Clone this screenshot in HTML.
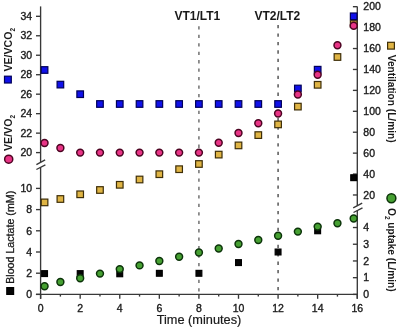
<!DOCTYPE html>
<html><head><meta charset="utf-8"><style>
html,body{margin:0;padding:0;background:#fff;}
body{width:400px;height:329px;overflow:hidden;}
svg{display:block;font-family:"Liberation Sans", sans-serif;will-change:transform;}
text{fill:#1a1a1a;}
</style></head><body>
<svg width="400" height="329" viewBox="0 0 400 329">
<rect width="400" height="329" fill="#fff"/>
<line x1="198.92" y1="26.30" x2="198.92" y2="294.40" stroke="#666" stroke-width="1.4" stroke-dasharray="3.3 5.15"/>
<line x1="278.08" y1="25.00" x2="278.08" y2="294.40" stroke="#4a4a4a" stroke-width="1.4" stroke-dasharray="3.3 5.15"/>
<line x1="40.60" y1="6.40" x2="40.60" y2="162.40" stroke="#383838" stroke-width="1.35" />
<line x1="40.60" y1="167.30" x2="40.60" y2="298.80" stroke="#383838" stroke-width="1.35" />
<line x1="357.30" y1="6.40" x2="357.30" y2="205.80" stroke="#383838" stroke-width="1.35" />
<line x1="357.30" y1="210.40" x2="357.30" y2="298.80" stroke="#383838" stroke-width="1.35" />
<line x1="35.90" y1="294.40" x2="357.30" y2="294.40" stroke="#383838" stroke-width="1.35" />
<line x1="36.40" y1="164.60" x2="45.10" y2="159.90" stroke="#383838" stroke-width="1.35" />
<line x1="36.40" y1="169.50" x2="45.40" y2="164.80" stroke="#383838" stroke-width="1.35" />
<line x1="353.20" y1="207.80" x2="362.20" y2="203.20" stroke="#383838" stroke-width="1.35" />
<line x1="353.50" y1="212.50" x2="362.50" y2="207.80" stroke="#383838" stroke-width="1.35" />
<line x1="36.00" y1="152.60" x2="40.60" y2="152.60" stroke="#383838" stroke-width="1.35" />
<text x="32.20" y="156.30" text-anchor="end" font-size="10.5" font-weight="normal" stroke="#1a1a1a" stroke-width="0.35">20</text>
<line x1="36.00" y1="133.13" x2="40.60" y2="133.13" stroke="#383838" stroke-width="1.35" />
<text x="32.20" y="136.83" text-anchor="end" font-size="10.5" font-weight="normal" stroke="#1a1a1a" stroke-width="0.35">22</text>
<line x1="36.00" y1="113.66" x2="40.60" y2="113.66" stroke="#383838" stroke-width="1.35" />
<text x="32.20" y="117.36" text-anchor="end" font-size="10.5" font-weight="normal" stroke="#1a1a1a" stroke-width="0.35">24</text>
<line x1="36.00" y1="94.18" x2="40.60" y2="94.18" stroke="#383838" stroke-width="1.35" />
<text x="32.20" y="97.88" text-anchor="end" font-size="10.5" font-weight="normal" stroke="#1a1a1a" stroke-width="0.35">26</text>
<line x1="36.00" y1="74.71" x2="40.60" y2="74.71" stroke="#383838" stroke-width="1.35" />
<text x="32.20" y="78.41" text-anchor="end" font-size="10.5" font-weight="normal" stroke="#1a1a1a" stroke-width="0.35">28</text>
<line x1="36.00" y1="55.24" x2="40.60" y2="55.24" stroke="#383838" stroke-width="1.35" />
<text x="32.20" y="58.94" text-anchor="end" font-size="10.5" font-weight="normal" stroke="#1a1a1a" stroke-width="0.35">30</text>
<line x1="36.00" y1="35.77" x2="40.60" y2="35.77" stroke="#383838" stroke-width="1.35" />
<text x="32.20" y="39.47" text-anchor="end" font-size="10.5" font-weight="normal" stroke="#1a1a1a" stroke-width="0.35">32</text>
<line x1="36.00" y1="16.30" x2="40.60" y2="16.30" stroke="#383838" stroke-width="1.35" />
<text x="32.20" y="20.00" text-anchor="end" font-size="10.5" font-weight="normal" stroke="#1a1a1a" stroke-width="0.35">34</text>
<line x1="36.00" y1="294.40" x2="40.60" y2="294.40" stroke="#383838" stroke-width="1.35" />
<text x="32.20" y="298.10" text-anchor="end" font-size="10.5" font-weight="normal" stroke="#1a1a1a" stroke-width="0.35">0</text>
<line x1="36.00" y1="273.20" x2="40.60" y2="273.20" stroke="#383838" stroke-width="1.35" />
<text x="32.20" y="276.90" text-anchor="end" font-size="10.5" font-weight="normal" stroke="#1a1a1a" stroke-width="0.35">2</text>
<line x1="36.00" y1="252.00" x2="40.60" y2="252.00" stroke="#383838" stroke-width="1.35" />
<text x="32.20" y="255.70" text-anchor="end" font-size="10.5" font-weight="normal" stroke="#1a1a1a" stroke-width="0.35">4</text>
<line x1="36.00" y1="230.80" x2="40.60" y2="230.80" stroke="#383838" stroke-width="1.35" />
<text x="32.20" y="234.50" text-anchor="end" font-size="10.5" font-weight="normal" stroke="#1a1a1a" stroke-width="0.35">6</text>
<line x1="36.00" y1="209.60" x2="40.60" y2="209.60" stroke="#383838" stroke-width="1.35" />
<text x="32.20" y="213.30" text-anchor="end" font-size="10.5" font-weight="normal" stroke="#1a1a1a" stroke-width="0.35">8</text>
<line x1="36.00" y1="188.40" x2="40.60" y2="188.40" stroke="#383838" stroke-width="1.35" />
<text x="32.20" y="192.10" text-anchor="end" font-size="10.5" font-weight="normal" stroke="#1a1a1a" stroke-width="0.35">10</text>
<line x1="352.90" y1="194.98" x2="357.30" y2="194.98" stroke="#383838" stroke-width="1.35" />
<text x="363.30" y="198.68" text-anchor="start" font-size="10.5" font-weight="normal" stroke="#1a1a1a" stroke-width="0.35">20</text>
<line x1="352.90" y1="174.06" x2="357.30" y2="174.06" stroke="#383838" stroke-width="1.35" />
<text x="363.30" y="177.76" text-anchor="start" font-size="10.5" font-weight="normal" stroke="#1a1a1a" stroke-width="0.35">40</text>
<line x1="352.90" y1="153.14" x2="357.30" y2="153.14" stroke="#383838" stroke-width="1.35" />
<text x="363.30" y="156.84" text-anchor="start" font-size="10.5" font-weight="normal" stroke="#1a1a1a" stroke-width="0.35">60</text>
<line x1="352.90" y1="132.22" x2="357.30" y2="132.22" stroke="#383838" stroke-width="1.35" />
<text x="363.30" y="135.92" text-anchor="start" font-size="10.5" font-weight="normal" stroke="#1a1a1a" stroke-width="0.35">80</text>
<line x1="352.90" y1="111.30" x2="357.30" y2="111.30" stroke="#383838" stroke-width="1.35" />
<text x="363.30" y="115.00" text-anchor="start" font-size="10.5" font-weight="normal" stroke="#1a1a1a" stroke-width="0.35">100</text>
<line x1="352.90" y1="90.38" x2="357.30" y2="90.38" stroke="#383838" stroke-width="1.35" />
<text x="363.30" y="94.08" text-anchor="start" font-size="10.5" font-weight="normal" stroke="#1a1a1a" stroke-width="0.35">120</text>
<line x1="352.90" y1="69.46" x2="357.30" y2="69.46" stroke="#383838" stroke-width="1.35" />
<text x="363.30" y="73.16" text-anchor="start" font-size="10.5" font-weight="normal" stroke="#1a1a1a" stroke-width="0.35">140</text>
<line x1="352.90" y1="48.54" x2="357.30" y2="48.54" stroke="#383838" stroke-width="1.35" />
<text x="363.30" y="52.24" text-anchor="start" font-size="10.5" font-weight="normal" stroke="#1a1a1a" stroke-width="0.35">160</text>
<line x1="352.90" y1="27.62" x2="357.30" y2="27.62" stroke="#383838" stroke-width="1.35" />
<text x="363.30" y="31.32" text-anchor="start" font-size="10.5" font-weight="normal" stroke="#1a1a1a" stroke-width="0.35">180</text>
<line x1="352.90" y1="6.70" x2="357.30" y2="6.70" stroke="#383838" stroke-width="1.35" />
<text x="363.30" y="10.40" text-anchor="start" font-size="10.5" font-weight="normal" stroke="#1a1a1a" stroke-width="0.35">200</text>
<line x1="352.90" y1="294.40" x2="357.30" y2="294.40" stroke="#383838" stroke-width="1.35" />
<text x="363.30" y="298.10" text-anchor="start" font-size="10.5" font-weight="normal" stroke="#1a1a1a" stroke-width="0.35">0</text>
<line x1="352.90" y1="277.68" x2="357.30" y2="277.68" stroke="#383838" stroke-width="1.35" />
<text x="363.30" y="281.38" text-anchor="start" font-size="10.5" font-weight="normal" stroke="#1a1a1a" stroke-width="0.35">1</text>
<line x1="352.90" y1="260.96" x2="357.30" y2="260.96" stroke="#383838" stroke-width="1.35" />
<text x="363.30" y="264.66" text-anchor="start" font-size="10.5" font-weight="normal" stroke="#1a1a1a" stroke-width="0.35">2</text>
<line x1="352.90" y1="244.24" x2="357.30" y2="244.24" stroke="#383838" stroke-width="1.35" />
<text x="363.30" y="247.94" text-anchor="start" font-size="10.5" font-weight="normal" stroke="#1a1a1a" stroke-width="0.35">3</text>
<line x1="352.90" y1="227.52" x2="357.30" y2="227.52" stroke="#383838" stroke-width="1.35" />
<text x="363.30" y="231.22" text-anchor="start" font-size="10.5" font-weight="normal" stroke="#1a1a1a" stroke-width="0.35">4</text>
<line x1="40.60" y1="294.40" x2="40.60" y2="298.80" stroke="#383838" stroke-width="1.35" />
<text x="40.60" y="311.80" text-anchor="middle" font-size="10.5" font-weight="normal" stroke="#1a1a1a" stroke-width="0.35">0</text>
<line x1="60.39" y1="294.40" x2="60.39" y2="296.60" stroke="#383838" stroke-width="1.35" />
<line x1="80.18" y1="294.40" x2="80.18" y2="298.80" stroke="#383838" stroke-width="1.35" />
<text x="80.18" y="311.80" text-anchor="middle" font-size="10.5" font-weight="normal" stroke="#1a1a1a" stroke-width="0.35">2</text>
<line x1="99.97" y1="294.40" x2="99.97" y2="296.60" stroke="#383838" stroke-width="1.35" />
<line x1="119.76" y1="294.40" x2="119.76" y2="298.80" stroke="#383838" stroke-width="1.35" />
<text x="119.76" y="311.80" text-anchor="middle" font-size="10.5" font-weight="normal" stroke="#1a1a1a" stroke-width="0.35">4</text>
<line x1="139.55" y1="294.40" x2="139.55" y2="296.60" stroke="#383838" stroke-width="1.35" />
<line x1="159.34" y1="294.40" x2="159.34" y2="298.80" stroke="#383838" stroke-width="1.35" />
<text x="159.34" y="311.80" text-anchor="middle" font-size="10.5" font-weight="normal" stroke="#1a1a1a" stroke-width="0.35">6</text>
<line x1="179.13" y1="294.40" x2="179.13" y2="296.60" stroke="#383838" stroke-width="1.35" />
<line x1="198.92" y1="294.40" x2="198.92" y2="298.80" stroke="#383838" stroke-width="1.35" />
<text x="198.92" y="311.80" text-anchor="middle" font-size="10.5" font-weight="normal" stroke="#1a1a1a" stroke-width="0.35">8</text>
<line x1="218.71" y1="294.40" x2="218.71" y2="296.60" stroke="#383838" stroke-width="1.35" />
<line x1="238.50" y1="294.40" x2="238.50" y2="298.80" stroke="#383838" stroke-width="1.35" />
<text x="238.50" y="311.80" text-anchor="middle" font-size="10.5" font-weight="normal" stroke="#1a1a1a" stroke-width="0.35">10</text>
<line x1="258.29" y1="294.40" x2="258.29" y2="296.60" stroke="#383838" stroke-width="1.35" />
<line x1="278.08" y1="294.40" x2="278.08" y2="298.80" stroke="#383838" stroke-width="1.35" />
<text x="278.08" y="311.80" text-anchor="middle" font-size="10.5" font-weight="normal" stroke="#1a1a1a" stroke-width="0.35">12</text>
<line x1="297.87" y1="294.40" x2="297.87" y2="296.60" stroke="#383838" stroke-width="1.35" />
<line x1="317.66" y1="294.40" x2="317.66" y2="298.80" stroke="#383838" stroke-width="1.35" />
<text x="317.66" y="311.80" text-anchor="middle" font-size="10.5" font-weight="normal" stroke="#1a1a1a" stroke-width="0.35">14</text>
<line x1="337.45" y1="294.40" x2="337.45" y2="296.60" stroke="#383838" stroke-width="1.35" />
<line x1="357.24" y1="294.40" x2="357.24" y2="298.80" stroke="#383838" stroke-width="1.35" />
<text x="357.24" y="311.80" text-anchor="middle" font-size="10.5" font-weight="normal" stroke="#1a1a1a" stroke-width="0.35">16</text>
<rect x="41.66" y="270.70" width="5.80" height="5.80" fill="#050505" stroke="#000000" stroke-width="1.2"/>
<rect x="77.28" y="270.70" width="5.80" height="5.80" fill="#050505" stroke="#000000" stroke-width="1.2"/>
<rect x="116.86" y="270.90" width="5.80" height="5.80" fill="#050505" stroke="#000000" stroke-width="1.2"/>
<rect x="156.44" y="270.40" width="5.80" height="5.80" fill="#050505" stroke="#000000" stroke-width="1.2"/>
<rect x="196.02" y="270.40" width="5.80" height="5.80" fill="#050505" stroke="#000000" stroke-width="1.2"/>
<rect x="235.60" y="259.70" width="5.80" height="5.80" fill="#050505" stroke="#000000" stroke-width="1.2"/>
<rect x="275.18" y="249.10" width="5.80" height="5.80" fill="#050505" stroke="#000000" stroke-width="1.2"/>
<rect x="314.76" y="227.90" width="5.80" height="5.80" fill="#050505" stroke="#000000" stroke-width="1.2"/>
<rect x="350.78" y="174.80" width="5.80" height="5.80" fill="#050505" stroke="#000000" stroke-width="1.2"/>
<circle cx="44.56" cy="286.20" r="3.45" fill="#46a032" stroke="#0c340a" stroke-width="1.5"/>
<circle cx="60.39" cy="282.00" r="3.45" fill="#46a032" stroke="#0c340a" stroke-width="1.5"/>
<circle cx="80.18" cy="278.20" r="3.45" fill="#46a032" stroke="#0c340a" stroke-width="1.5"/>
<circle cx="99.97" cy="273.60" r="3.45" fill="#46a032" stroke="#0c340a" stroke-width="1.5"/>
<circle cx="119.76" cy="269.10" r="3.45" fill="#46a032" stroke="#0c340a" stroke-width="1.5"/>
<circle cx="139.55" cy="265.40" r="3.45" fill="#46a032" stroke="#0c340a" stroke-width="1.5"/>
<circle cx="159.34" cy="261.00" r="3.45" fill="#46a032" stroke="#0c340a" stroke-width="1.5"/>
<circle cx="179.13" cy="256.70" r="3.45" fill="#46a032" stroke="#0c340a" stroke-width="1.5"/>
<circle cx="198.92" cy="252.50" r="3.45" fill="#46a032" stroke="#0c340a" stroke-width="1.5"/>
<circle cx="218.71" cy="248.50" r="3.45" fill="#46a032" stroke="#0c340a" stroke-width="1.5"/>
<circle cx="238.50" cy="244.00" r="3.45" fill="#46a032" stroke="#0c340a" stroke-width="1.5"/>
<circle cx="258.29" cy="240.00" r="3.45" fill="#46a032" stroke="#0c340a" stroke-width="1.5"/>
<circle cx="278.08" cy="235.80" r="3.45" fill="#46a032" stroke="#0c340a" stroke-width="1.5"/>
<circle cx="297.87" cy="231.60" r="3.45" fill="#46a032" stroke="#0c340a" stroke-width="1.5"/>
<circle cx="317.66" cy="226.60" r="3.45" fill="#46a032" stroke="#0c340a" stroke-width="1.5"/>
<circle cx="337.45" cy="223.20" r="3.45" fill="#46a032" stroke="#0c340a" stroke-width="1.5"/>
<circle cx="353.68" cy="218.50" r="3.45" fill="#46a032" stroke="#0c340a" stroke-width="1.5"/>
<rect x="41.26" y="199.10" width="6.60" height="6.60" fill="#dfb444" stroke="#3e2e08" stroke-width="1.2"/>
<rect x="57.09" y="195.70" width="6.60" height="6.60" fill="#dfb444" stroke="#3e2e08" stroke-width="1.2"/>
<rect x="76.88" y="191.00" width="6.60" height="6.60" fill="#dfb444" stroke="#3e2e08" stroke-width="1.2"/>
<rect x="96.67" y="186.70" width="6.60" height="6.60" fill="#dfb444" stroke="#3e2e08" stroke-width="1.2"/>
<rect x="116.46" y="181.50" width="6.60" height="6.60" fill="#dfb444" stroke="#3e2e08" stroke-width="1.2"/>
<rect x="136.25" y="176.20" width="6.60" height="6.60" fill="#dfb444" stroke="#3e2e08" stroke-width="1.2"/>
<rect x="156.04" y="170.90" width="6.60" height="6.60" fill="#dfb444" stroke="#3e2e08" stroke-width="1.2"/>
<rect x="175.83" y="165.90" width="6.60" height="6.60" fill="#dfb444" stroke="#3e2e08" stroke-width="1.2"/>
<rect x="195.62" y="160.70" width="6.60" height="6.60" fill="#dfb444" stroke="#3e2e08" stroke-width="1.2"/>
<rect x="215.41" y="151.30" width="6.60" height="6.60" fill="#dfb444" stroke="#3e2e08" stroke-width="1.2"/>
<rect x="235.20" y="142.10" width="6.60" height="6.60" fill="#dfb444" stroke="#3e2e08" stroke-width="1.2"/>
<rect x="254.99" y="131.80" width="6.60" height="6.60" fill="#dfb444" stroke="#3e2e08" stroke-width="1.2"/>
<rect x="274.78" y="121.10" width="6.60" height="6.60" fill="#dfb444" stroke="#3e2e08" stroke-width="1.2"/>
<rect x="294.57" y="103.30" width="6.60" height="6.60" fill="#dfb444" stroke="#3e2e08" stroke-width="1.2"/>
<rect x="314.36" y="81.50" width="6.60" height="6.60" fill="#dfb444" stroke="#3e2e08" stroke-width="1.2"/>
<rect x="334.15" y="53.70" width="6.60" height="6.60" fill="#dfb444" stroke="#3e2e08" stroke-width="1.2"/>
<rect x="350.38" y="20.70" width="6.60" height="6.60" fill="#dfb444" stroke="#3e2e08" stroke-width="1.2"/>
<rect x="41.26" y="66.70" width="6.60" height="6.60" fill="#1010ea" stroke="#000058" stroke-width="1.2"/>
<rect x="57.09" y="81.30" width="6.60" height="6.60" fill="#1010ea" stroke="#000058" stroke-width="1.2"/>
<rect x="76.88" y="90.90" width="6.60" height="6.60" fill="#1010ea" stroke="#000058" stroke-width="1.2"/>
<rect x="96.67" y="100.70" width="6.60" height="6.60" fill="#1010ea" stroke="#000058" stroke-width="1.2"/>
<rect x="116.46" y="100.70" width="6.60" height="6.60" fill="#1010ea" stroke="#000058" stroke-width="1.2"/>
<rect x="136.25" y="100.70" width="6.60" height="6.60" fill="#1010ea" stroke="#000058" stroke-width="1.2"/>
<rect x="156.04" y="100.70" width="6.60" height="6.60" fill="#1010ea" stroke="#000058" stroke-width="1.2"/>
<rect x="175.83" y="100.70" width="6.60" height="6.60" fill="#1010ea" stroke="#000058" stroke-width="1.2"/>
<rect x="195.62" y="100.70" width="6.60" height="6.60" fill="#1010ea" stroke="#000058" stroke-width="1.2"/>
<rect x="215.41" y="100.70" width="6.60" height="6.60" fill="#1010ea" stroke="#000058" stroke-width="1.2"/>
<rect x="235.20" y="100.70" width="6.60" height="6.60" fill="#1010ea" stroke="#000058" stroke-width="1.2"/>
<rect x="254.99" y="100.70" width="6.60" height="6.60" fill="#1010ea" stroke="#000058" stroke-width="1.2"/>
<rect x="274.78" y="100.70" width="6.60" height="6.60" fill="#1010ea" stroke="#000058" stroke-width="1.2"/>
<rect x="294.57" y="85.20" width="6.60" height="6.60" fill="#1010ea" stroke="#000058" stroke-width="1.2"/>
<rect x="314.36" y="66.40" width="6.60" height="6.60" fill="#1010ea" stroke="#000058" stroke-width="1.2"/>
<rect x="350.38" y="13.00" width="6.60" height="6.60" fill="#1010ea" stroke="#000058" stroke-width="1.2"/>
<circle cx="44.56" cy="143.00" r="3.45" fill="#e83486" stroke="#4c0422" stroke-width="1.5"/>
<circle cx="60.39" cy="148.00" r="3.45" fill="#e83486" stroke="#4c0422" stroke-width="1.5"/>
<circle cx="80.18" cy="152.60" r="3.45" fill="#e83486" stroke="#4c0422" stroke-width="1.5"/>
<circle cx="99.97" cy="152.60" r="3.45" fill="#e83486" stroke="#4c0422" stroke-width="1.5"/>
<circle cx="119.76" cy="152.60" r="3.45" fill="#e83486" stroke="#4c0422" stroke-width="1.5"/>
<circle cx="139.55" cy="152.60" r="3.45" fill="#e83486" stroke="#4c0422" stroke-width="1.5"/>
<circle cx="159.34" cy="152.60" r="3.45" fill="#e83486" stroke="#4c0422" stroke-width="1.5"/>
<circle cx="179.13" cy="152.60" r="3.45" fill="#e83486" stroke="#4c0422" stroke-width="1.5"/>
<circle cx="198.92" cy="152.60" r="3.45" fill="#e83486" stroke="#4c0422" stroke-width="1.5"/>
<circle cx="218.71" cy="142.80" r="3.45" fill="#e83486" stroke="#4c0422" stroke-width="1.5"/>
<circle cx="238.50" cy="133.00" r="3.45" fill="#e83486" stroke="#4c0422" stroke-width="1.5"/>
<circle cx="258.29" cy="123.30" r="3.45" fill="#e83486" stroke="#4c0422" stroke-width="1.5"/>
<circle cx="278.08" cy="113.50" r="3.45" fill="#e83486" stroke="#4c0422" stroke-width="1.5"/>
<circle cx="297.87" cy="94.50" r="3.45" fill="#e83486" stroke="#4c0422" stroke-width="1.5"/>
<circle cx="317.66" cy="74.80" r="3.45" fill="#e83486" stroke="#4c0422" stroke-width="1.5"/>
<circle cx="337.45" cy="45.20" r="3.45" fill="#e83486" stroke="#4c0422" stroke-width="1.5"/>
<circle cx="353.68" cy="25.70" r="3.45" fill="#e83486" stroke="#4c0422" stroke-width="1.5"/>
<text x="199.00" y="324.40" text-anchor="middle" font-size="12.75" font-weight="normal" stroke="#1a1a1a" stroke-width="0.2">Time (minutes)</text>
<text x="197.30" y="19.60" text-anchor="middle" font-size="12" font-weight="bold" >VT1/LT1</text>
<text x="277.30" y="19.60" text-anchor="middle" font-size="12" font-weight="bold" >VT2/LT2</text>
<text transform="translate(11.80,71.60) rotate(-90)" font-size="10.6" font-weight="bold" >VE/VCO<tspan font-size="6.5" dy="3.0">2</tspan></text>
<text transform="translate(11.60,151.00) rotate(-90)" font-size="10.6" font-weight="bold" >VE/VO<tspan font-size="6.5" dy="3.0">2</tspan></text>
<text transform="translate(13.80,283.80) rotate(-90)" font-size="10.66" font-weight="normal" stroke="#1a1a1a" stroke-width="0.3">Blood Lactate (mM)</text>
<text transform="translate(387.80,54.80) rotate(90)" font-size="10.15" font-weight="bold">Ventilation (L/min)</text>
<text transform="translate(387.80,208.00) rotate(90)" font-size="10.15" font-weight="bold">O<tspan font-size="6.5" dy="3.0">2</tspan><tspan dy="-3.0"> uptake (L/min)</tspan></text>
<rect x="4.50" y="76.20" width="6.80" height="6.80" fill="#1010ea" stroke="#000058" stroke-width="1.2"/>
<circle cx="8.70" cy="159.20" r="4.05" fill="#e83486" stroke="#4c0422" stroke-width="1.5"/>
<rect x="6.80" y="287.60" width="6.80" height="6.80" fill="#050505" stroke="#000000" stroke-width="1.2"/>
<rect x="387.60" y="42.30" width="6.80" height="6.80" fill="#dfb444" stroke="#3e2e08" stroke-width="1.2"/>
<circle cx="391.40" cy="198.20" r="4.45" fill="#46a032" stroke="#0c340a" stroke-width="1.5"/>
</svg>
</body></html>
